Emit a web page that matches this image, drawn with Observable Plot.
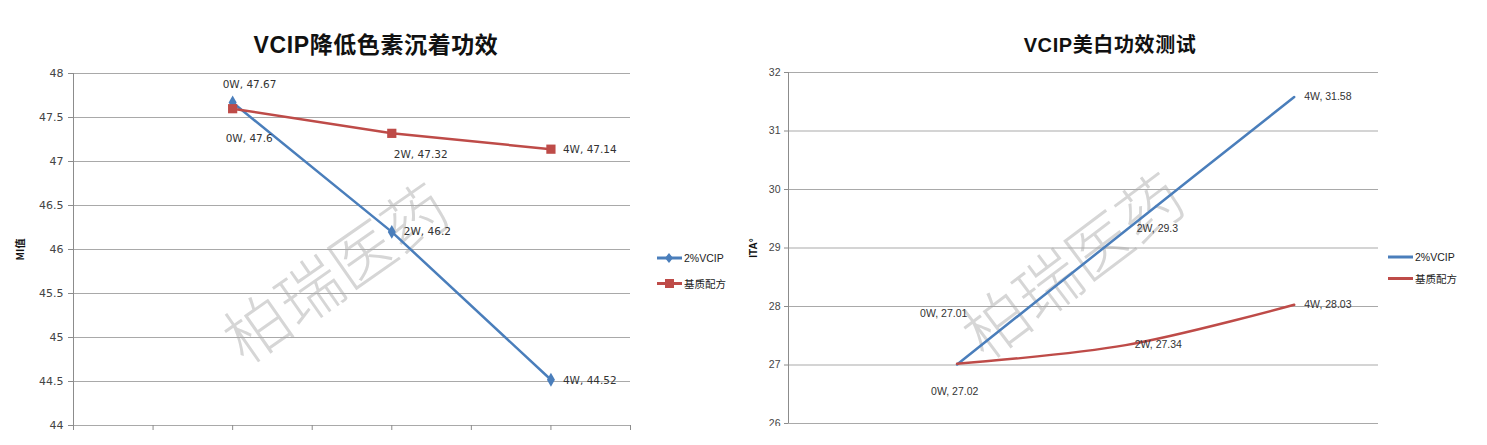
<!DOCTYPE html>
<html>
<head>
<meta charset="utf-8">
<script src="https://cdn.jsdelivr.net/npm/d3@7"></script>
<script src="https://cdn.jsdelivr.net/npm/@observablehq/plot@0.6"></script>
<style>
  body { margin:0; background:#fff; width:1487px; height:445px; overflow:hidden; position:relative;
         font-family:"Liberation Sans","Noto Sans CJK SC",sans-serif; }
  .panel { position:absolute; top:0; }
  .title { position:absolute; transform:translate(-50%,-50%); font-weight:bold; white-space:nowrap; color:#111;
           font-family:"Liberation Sans","Noto Sans CJK SC",sans-serif; }
  .leg { position:absolute; display:flex; align-items:center; white-space:nowrap; color:#222;
         transform:translateY(-50%); font-family:"Liberation Sans","Noto Sans CJK SC",sans-serif; font-size:10.5px; }
  .leg svg { margin-right:2px; }
</style>
</head>
<body>
<div id="left" class="panel" style="left:0;width:740px;height:445px;"></div>
<div id="right" class="panel" style="left:740px;width:747px;height:426px;overflow:hidden;"></div>
<div id="t0" class="title" style="left:376px;top:43px;font-size:23px;letter-spacing:0.6px;"></div>
<div id="t1" class="title" style="left:1110px;top:43px;font-size:20px;letter-spacing:0.6px;"></div>
<div id="legends"></div>
<script>
// ---- data ----
const weeks = ["0W", "2W", "4W"];
const weekValues = [0, 2, 4];
const seriesNames = ["2%VCIP", "基质配方"];
const miVCIP = [47.67, 46.2, 44.52];
const miBase = [47.6, 47.32, 47.14];
const itaVCIP = [27.01, 29.3, 31.58];
const itaBase = [27.02, 27.34, 28.03];
const miTicks = [44, 44.5, 45, 45.5, 46, 46.5, 47, 47.5, 48];
const itaTicks = [26, 27, 28, 29, 30, 31, 32];
const xTicks = [-2, -1, 0, 1, 2, 3, 4, 5];
const yTitles = ["MI值", "ITA°"];
const chartTitles = ["VCIP降低色素沉着功效", "VCIP美白功效测试"];
const watermark = "柏瑞医药";

document.getElementById("t0").textContent = chartTitles[0];
document.getElementById("t1").textContent = chartTitles[1];

// ---- styles ----
const blue = "#4A7EBB", red = "#BE4B48";
const gridColor = "#a9a9a9", axisColor = "#8c8c8c";

function rows(values, series) {
  return weeks.map((w, i) => ({week: w, x: weekValues[i], y: values[i], series}));
}
function labels(data, idx, dx, dy, font, size) {
  return Plot.text([data[idx]], {x: "x", y: "y", text: d => `${d.week}, ${d.y}`, dx, dy,
    textAnchor: "start", fill: "#333", fontSize: size, fontFamily: font});
}

// ---- left chart ----
const mi1 = rows(miVCIP, seriesNames[0]);
const mi2 = rows(miBase, seriesNames[1]);
const lf = "DejaVu Sans";
const left = Plot.plot({
  width: 740, height: 445,
  marginLeft: 73, marginRight: 110, marginTop: 73, marginBottom: 20,
  style: {fontFamily: lf, fontSize: "11px", background: "transparent"},
  x: {domain: [-2, 5]},
  y: {domain: [44, 48]},
  marks: [
    Plot.text([watermark], {frameAnchor: "middle", rotate: -35, dx: -14, dy: 26, fontSize: 64,
      fill: "#d6d6d6", fontWeight: 300, fontFamily: "Noto Sans CJK SC"}),
    Plot.gridY(miTicks, {stroke: gridColor, strokeOpacity: 1}),
    Plot.ruleX([xTicks[0]], {stroke: axisColor}),
    Plot.axisY(miTicks, {tickSize: 5, tickPadding: 5, stroke: axisColor, fill: "#444", label: null,
      tickFormat: d => String(d), fontSize: 11}),
    Plot.axisX(xTicks, {tickSize: 5, tickFormat: () => "", stroke: axisColor, label: null}),
    Plot.text([yTitles[0]], {frameAnchor: "left", rotate: -90, dx: -53, textAnchor: "middle",
      fontWeight: "bold", fontSize: 10, fill: "#111", fontFamily: "Noto Sans CJK SC"}),
    Plot.line(mi1, {x: "x", y: "y", stroke: blue, strokeWidth: 2.5}),
    Plot.dot(mi1, {x: "x", y: "y", symbol: "diamond", r: 4.2, fill: blue}),
    Plot.line(mi2, {x: "x", y: "y", stroke: red, strokeWidth: 2.5}),
    Plot.dot(mi2, {x: "x", y: "y", symbol: "square", r: 5.2, fill: red}),
    labels(mi1, 0, -10, -18, lf, 10.5),
    labels(mi1, 1, 12, 0, lf, 10.5),
    labels(mi1, 2, 12, 1, lf, 10.5),
    labels(mi2, 0, -7, 30, lf, 10.5),
    labels(mi2, 1, 2, 21, lf, 10.5),
    labels(mi2, 2, 12, 0, lf, 10.5)
  ]
});
document.getElementById("left").appendChild(left);

// ---- right chart ----
const ita1 = rows(itaVCIP, seriesNames[0]);
const ita2 = rows(itaBase, seriesNames[1]);
const rf = "Liberation Sans";
const right = Plot.plot({
  width: 747, height: 445,
  marginLeft: 48, marginRight: 109, marginTop: 72, marginBottom: 22,
  style: {fontFamily: rf, fontSize: "10px", background: "transparent"},
  x: {domain: [-2, 5], axis: null},
  y: {domain: [26, 32], axis: null},
  marks: [
    Plot.text([watermark], {frameAnchor: "middle", rotate: -37, dx: -8, dy: 20, fontSize: 64,
      fill: "#d6d6d6", fontWeight: 300, fontFamily: "Noto Sans CJK SC"}),
    Plot.gridY(itaTicks, {stroke: gridColor, strokeOpacity: 1}),
    Plot.ruleX([xTicks[0]], {stroke: axisColor}),
    Plot.axisY(itaTicks, {tickSize: 4, tickPadding: 4, stroke: axisColor, fill: "#444", label: null,
      tickFormat: d => String(d), fontSize: 10.5}),
    Plot.text([yTitles[1]], {frameAnchor: "left", rotate: -90, dx: -35, textAnchor: "middle",
      fontWeight: "bold", fontSize: 10, fill: "#111", fontFamily: "Liberation Sans"}),
    Plot.line(ita1, {x: "x", y: "y", stroke: blue, strokeWidth: 2.5, curve: "catmull-rom"}),
    Plot.line(ita2, {x: "x", y: "y", stroke: red, strokeWidth: 2.5, curve: "catmull-rom"}),
    labels(ita1, 0, -37, -51, rf, 10.5),
    labels(ita1, 1, 11, -2, rf, 10.5),
    labels(ita1, 2, 10, 0, rf, 10.5),
    labels(ita2, 0, -26, 28, rf, 10.5),
    labels(ita2, 1, 9, 0, rf, 10.5),
    labels(ita2, 2, 10, 0, rf, 10.5)
  ]
});
document.getElementById("right").appendChild(right);

// ---- legends ----
const legendBox = document.getElementById("legends");
function legendItem(x, y, color, name, marker) {
  const div = document.createElement("div");
  div.className = "leg";
  div.style.left = x + "px";
  div.style.top = y + "px";
  let m = "";
  if (marker === "diamond") m = `<path d="M12,1 L16,6 L12,11 L8,6 Z" fill="${color}"/>`;
  if (marker === "square") m = `<rect x="8" y="1.5" width="9" height="9" fill="${color}"/>`;
  div.innerHTML = `<svg width="25" height="12"><line x1="0" x2="25" y1="6" y2="6" stroke="${color}" stroke-width="3"/>${m}</svg><span>${name}</span>`;
  legendBox.appendChild(div);
}
legendItem(657, 258, blue, seriesNames[0], "diamond");
legendItem(657, 283, red, seriesNames[1], "square");
legendItem(1388, 257, blue, seriesNames[0], null);
legendItem(1388, 278, red, seriesNames[1], null);
</script>
</body>
</html>
